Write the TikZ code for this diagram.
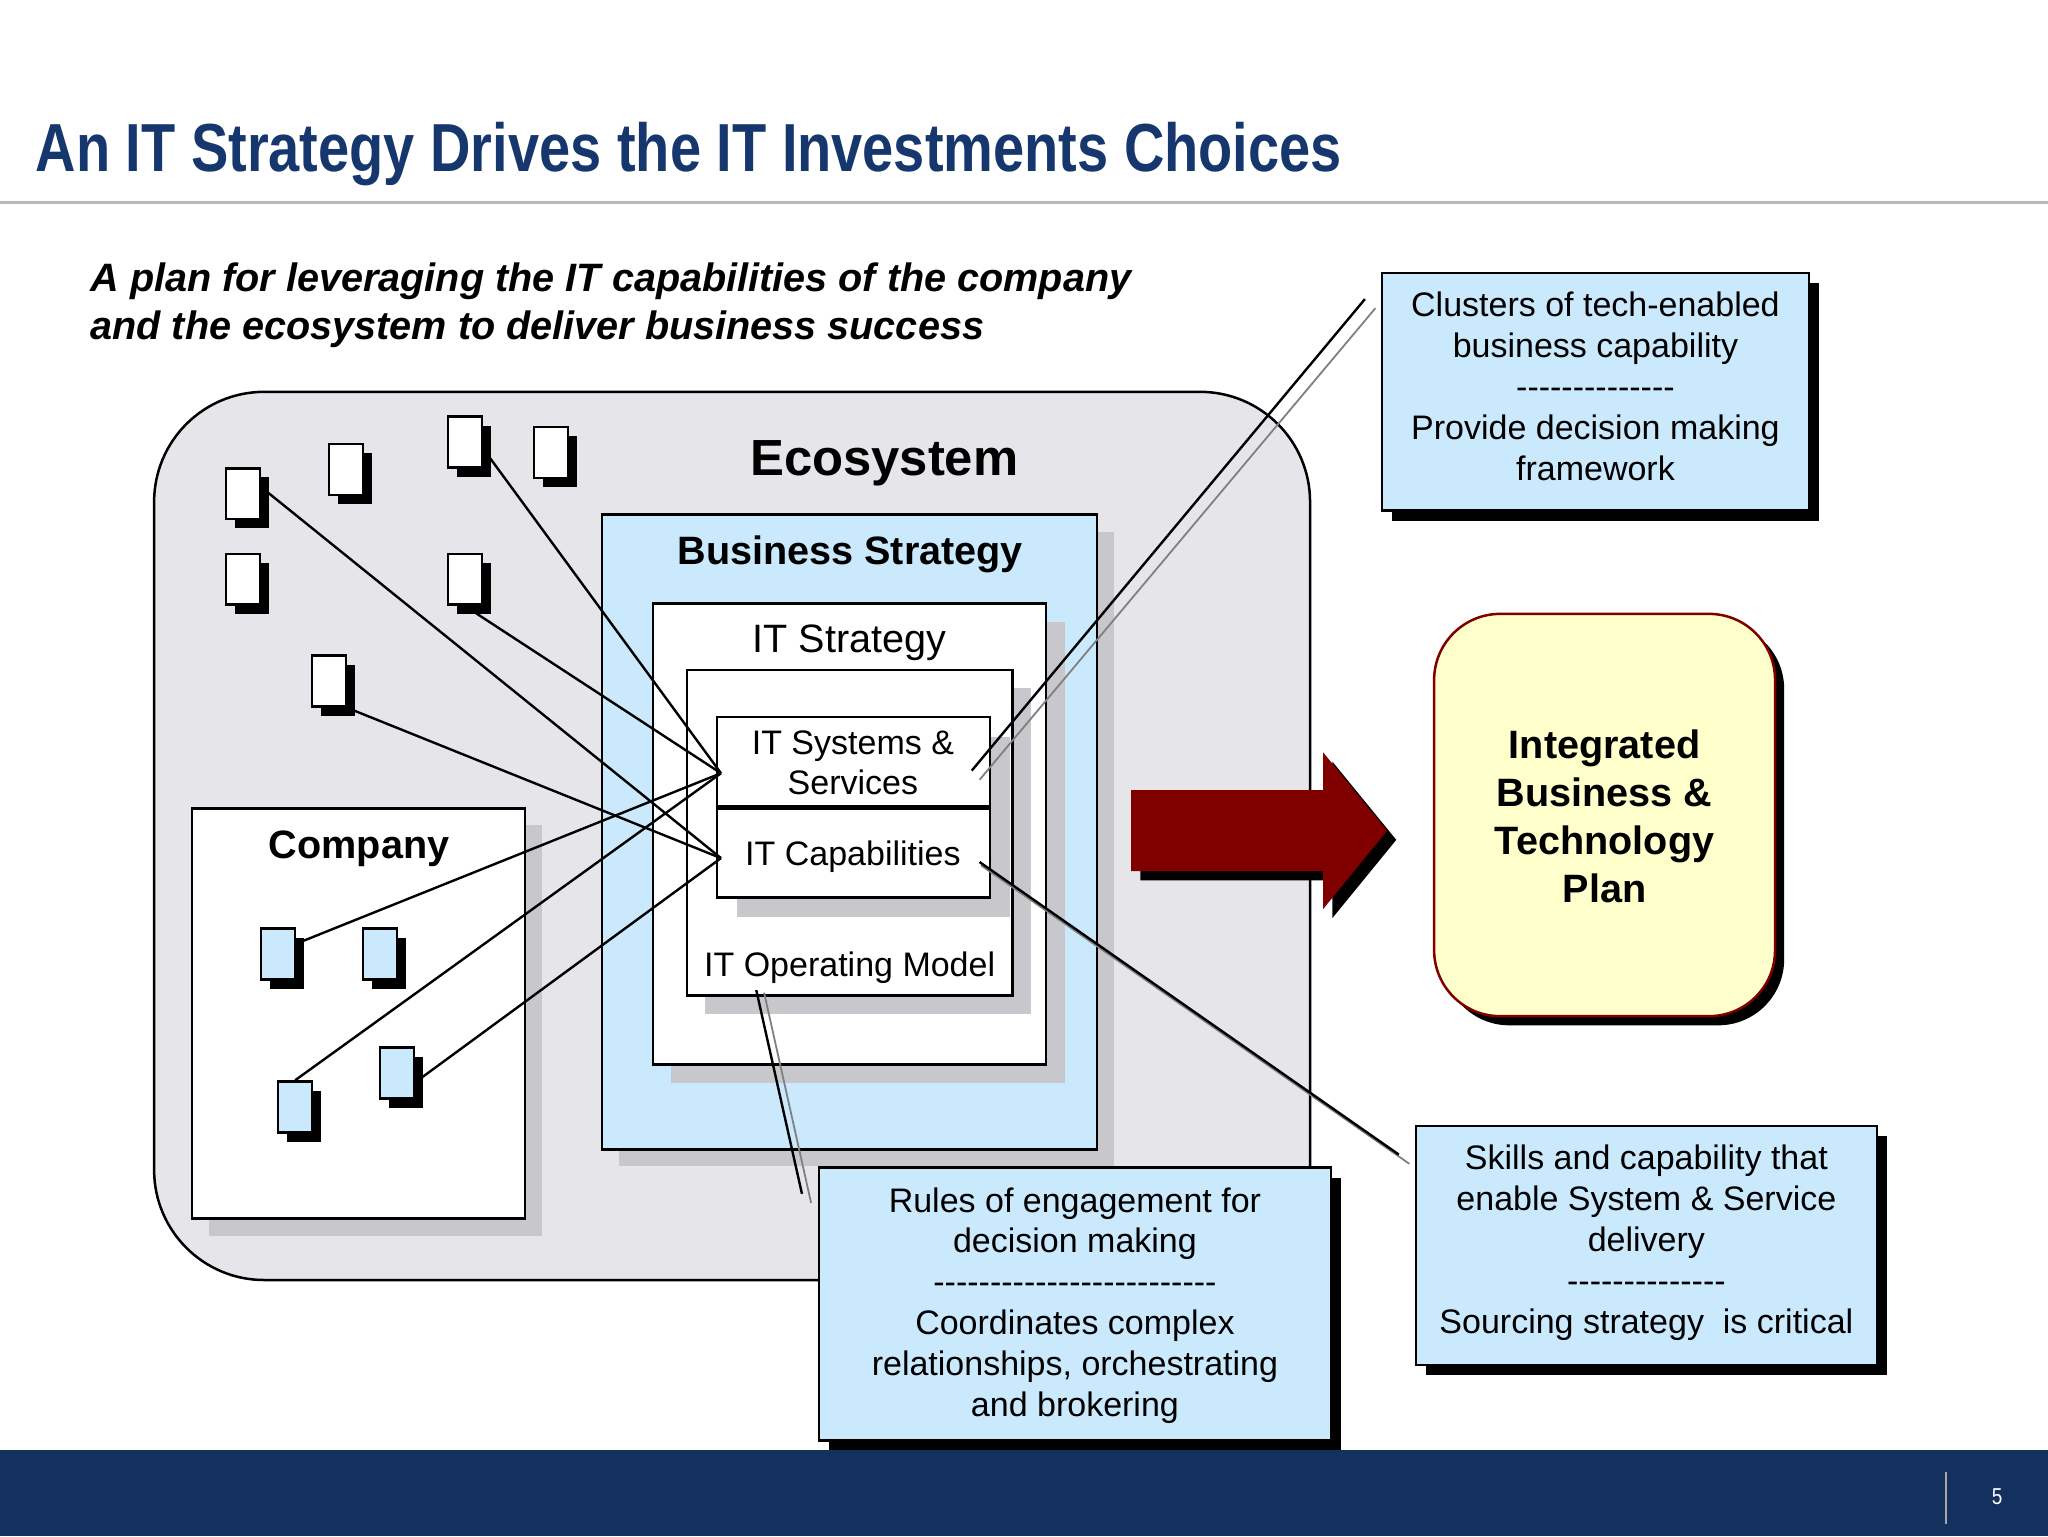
\documentclass[tikz,border=0pt]{standalone}
\usepackage{fontspec}
\usetikzlibrary{shadows,positioning}
\newfontfamily\slidefont{Liberation Sans}
\newfontfamily\titlefont[FakeStretch=0.823]{Liberation Sans}
\newlength\du
\setlength\du{0.65306pt}
\definecolor{navy}{HTML}{14305F}
\definecolor{titleblue}{HTML}{16376E}
\definecolor{rulegray}{HTML}{B8B8B8}
\definecolor{ecogray}{HTML}{E6E5E9}
\definecolor{paleblue}{HTML}{CBE9FD}
\definecolor{softgray}{HTML}{C8C8CC}
\definecolor{paleyellow}{HTML}{FFFFCC}
\definecolor{maroon}{HTML}{800000}
\tikzset{
    grayshadow/.style={
        drop shadow={shadow xshift=#1\du,shadow yshift=-#1\du,fill=softgray,opacity=1},
    },
    blackshadow/.style={
        drop shadow={shadow xshift=#1\du,shadow yshift=-#1\du,fill=black,opacity=1},
    },
    layerbox/.style={
        rectangle,
        draw=black,
        line width=1.25pt,
        inner sep=0pt,
    },
    tag/.style={
        font=\slidefont\fontsize{20}{24}\selectfont,
        inner sep=0pt,
    },
    tagbold/.style={
        font=\slidefont\bfseries\fontsize{19.8}{24}\selectfont,
        inner sep=0pt,
    },
    party/.style={
        layerbox,
        fill=white,
        blackshadow=7,
        minimum width=26\du,
        minimum height=39\du,
    },
    partyin/.style={
        party,
        fill=paleblue,
    },
    callout/.style={
        layerbox,
        fill=paleblue,
        blackshadow=8,
    },
    callouttag/.style={
        align=center,
        inner sep=0pt,
        font=\slidefont\fontsize{17}{20.45}\selectfont,
    },
    link/.style={
        draw=black,
        line width=1.2pt,
    },
    leader/.style={
        draw=black,
        line width=1.2pt,
    },
    leadershade/.style={
        draw=gray,
        line width=0.9pt,
    },
}

\begin{document}
\begin{tikzpicture}[x=\du,y=-\du]
    \useasboundingbox (0,0) rectangle (1568,1176);
    \fill[white] (0,0) rectangle (1568,1176);

    % title
    \node [anchor=base west,inner sep=0pt,text=titleblue,font=\titlefont\bfseries\fontsize{34}{40}\selectfont] (title) at (27,131) {An IT Strategy Drives the IT Investments Choices};
    \node [anchor=base west,align=left,inner sep=0pt,font=\slidefont\bfseries\itshape\fontsize{19.8}{23.8}\selectfont] (subtitle) at (69,260) {A plan for leveraging the IT capabilities of the company\\and the ecosystem to deliver business success};
    \draw[rulegray,line width=1.2pt] (0,155) -- (1568,155);

    % nested boxes
    \node [layerbox,fill=ecogray,rounded corners=55pt,minimum width=885\du,minimum height=680\du] (eco) at (560.5,640) {};
    \node [tagbold,font=\slidefont\bfseries\fontsize{25.4}{30}\selectfont] (ecotag) at (677,355) {Ecosystem};
    \node [layerbox,fill=paleblue,grayshadow=13,minimum width=379\du,minimum height=486\du] (biz) at (650.5,637) {};
    \node [tagbold] (biztag) at (651,424.5) {Business Strategy};
    \node [layerbox,fill=white,grayshadow=14,minimum width=301\du,minimum height=353\du] (its) at (650.5,638.5) {};
    \node [tag,font=\slidefont\fontsize{19.8}{24}\selectfont] (itstag) at (650.5,492) {IT Strategy};
    \node [layerbox,fill=white,grayshadow=14,minimum width=249\du,minimum height=249\du] (opm) at (650.5,637.5) {};
    \node [tag,font=\slidefont\fontsize{17}{21}\selectfont] (opmtag) at (650.5,741) {IT Operating Model};
    \node [layerbox,fill=white,grayshadow=15,minimum width=209\du,minimum height=138\du] (stack) at (653.5,618) {};
    \node [callouttag] (systag) at (653,584) {IT Systems \&\\Services};
    \node [callouttag] (captag) at (653,656) {IT Capabilities};
    \draw[black,line width=2.4pt] (stack.west) -- (stack.east);

    \node [layerbox,fill=white,grayshadow=13,minimum width=255\du,minimum height=314\du] (company) at (274.5,776) {};
    \node [tagbold] (companytag) at (275,649.5) {Company};

    % links into the systems and capabilities
    \coordinate (sysL) at (552,592);
    \coordinate (capL) at (552,657);
    \node [party] (p1) at (186,378) {};
    \node [party] (p2) at (265,359.5) {};
    \node [party] (p3) at (356,338.5) {};
    \node [party] (p4) at (422,346.5) {};
    \node [party] (p5) at (186,443.5) {};
    \node [party] (p6) at (356,443.5) {};
    \node [party] (p7) at (252,521.5) {};
    \node [partyin] (c1) at (213,730.5) {};
    \node [partyin] (c2) at (291,730.5) {};
    \node [partyin] (c3) at (226,847.5) {};
    \node [partyin] (c4) at (304,821.5) {};

    \draw[link] (p1.20) -- (capL);
    \draw[link] (p3.-20) -- (sysL);
    \draw[link] (p6.south) -- (sysL);
    \draw[link] (p7.south east) -- (capL);
    \draw[link] (c1.30) -- (sysL);
    \draw[link] (c3.north) -- (sysL);
    \draw[link] (c4.-27) -- (capL);

    % callouts
    \node [callout,minimum width=327\du,minimum height=182\du] (clusters) at (1221.5,300) {};
    \node [callouttag] (clusterstag) at (1221.5,296) {Clusters of tech-enabled\\business capability\\--------------\\Provide decision making\\framework};
    \node [callout,minimum width=392\du,minimum height=209\du] (rules) at (823,998.5) {};
    \node [callouttag] (rulestag) at (823,999.5) {Rules of engagement for\\decision making\\-------------------------\\Coordinates complex\\relationships, orchestrating\\and brokering};
    \node [callout,minimum width=353\du,minimum height=183\du] (skills) at (1260.5,953.5) {};
    \node [callouttag] (skillstag) at (1260.5,951.5) {Skills and capability that\\enable System \& Service\\delivery\\--------------\\Sourcing strategy\ \ is critical};

    \coordinate (sysA) at (744,590);
    \coordinate (sysB) at (1045,229);
    \coordinate (sysC) at (750,597);
    \coordinate (sysD) at (1053,236);
    \coordinate (capA) at (750,660);
    \coordinate (capB) at (1071,884);
    \coordinate (capC) at (751,662.5);
    \coordinate (capD) at (1079,891);
    \coordinate (opmA) at (579,758);
    \coordinate (opmB) at (614,914);
    \coordinate (opmC) at (585,760);
    \coordinate (opmD) at (621,921);
    \draw[leadershade] (sysC) -- (sysD);
    \draw[leader] (sysA) -- (sysB);
    \draw[leadershade] (capC) -- (capD);
    \draw[leader] (capA) -- (capB);
    \draw[leadershade] (opmC) -- (opmD);
    \draw[leader] (opmA) -- (opmB);

    % the plan
    \fill[maroon,blackshadow=7] (866,605) -- (1013,605) -- (1013,576) -- (1062,636) -- (1013,696) -- (1013,667) -- (866,667) -- cycle;
    \node [layerbox,draw=maroon,fill=paleyellow,rounded corners=33pt,blackshadow=7,minimum width=261\du,minimum height=308\du] (plan) at (1228.5,624) {};
    \node [align=center,inner sep=0pt,font=\slidefont\bfseries\fontsize{19.8}{23.9}\selectfont] (plantag) at (1228.5,625) {Integrated\\Business \&\\Technology\\Plan};

    % footer
    \fill[navy] (0,1110) rectangle (1568,1176);
    \draw[gray!70,line width=1pt] (1490,1127) -- (1490,1167);
    \node [text=white,inner sep=0pt,font=\titlefont\fontsize{11.5}{14}\selectfont] (pagenum) at (1529,1146) {5};
\end{tikzpicture}
\end{document}
